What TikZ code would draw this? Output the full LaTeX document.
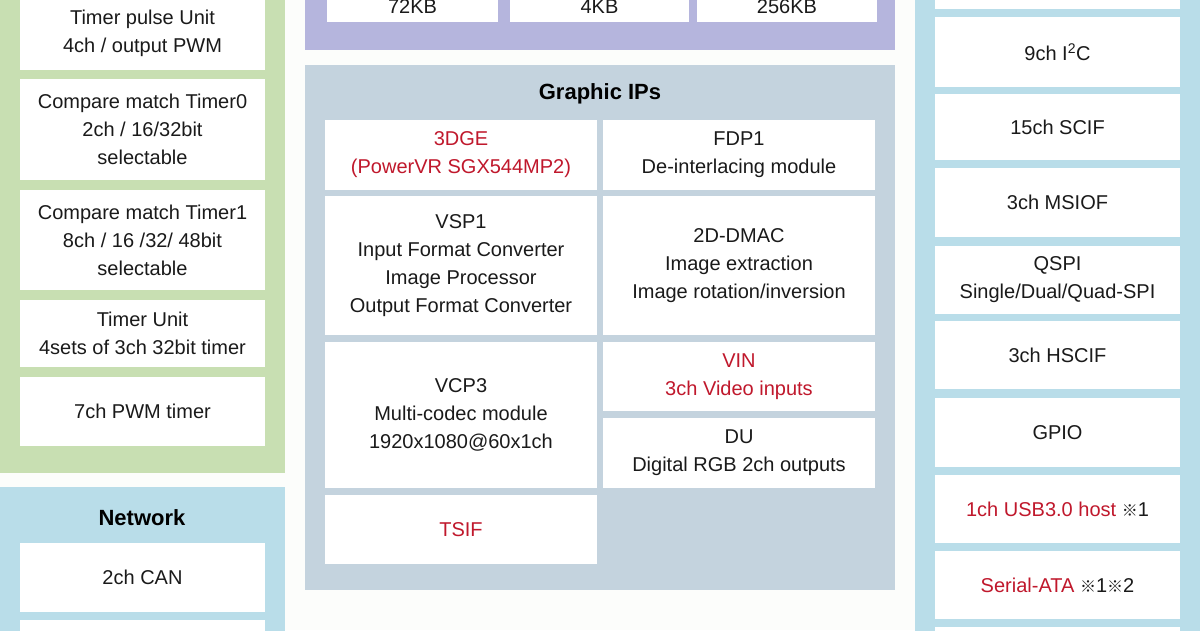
\documentclass[tikz,border=0pt]{standalone}
\usepackage{fontspec}
\setmainfont{Liberation Sans}
\newfontfamily\cjk{Noto Sans CJK JP}
\definecolor{bgc}{HTML}{FCFDFB}
\definecolor{grn}{HTML}{C8DFB2}
\definecolor{lblue}{HTML}{B9DDE9}
\definecolor{purp}{HTML}{B5B5DD}
\definecolor{gip}{HTML}{C4D3DE}
\definecolor{red}{HTML}{C0182C}
\definecolor{txt}{HTML}{1A1A1A}
\newcommand{\kome}{{\cjk\fontsize{16}{18}\selectfont ※}}
\newcommand{\bx}[6]{%
  \pgfmathsetmacro\bw{#4-#2}\pgfmathsetmacro\bh{#5-#3}%
  \node[box,minimum width=\bw pt,minimum height=\bh pt] (#1) at ({(#2+#4)/2},{(#3+#5)/2}) {#6};}
\begin{document}
\begin{tikzpicture}[x=1pt,y=-1pt,
  box/.style={fill=white,draw=none,inner sep=0pt,align=center,text=txt,font=\fontsize{20}{28}\selectfont},
  ttl/.style={text=black,font=\bfseries\fontsize{22}{26}\selectfont}]
\useasboundingbox (0,0) rectangle (1200,630);
\fill[bgc] (0,0) rectangle (1200,630);
% left green panel
\fill[grn] (0,-5) rectangle (285,473);
\bx{tpu}{20}{-3}{265}{70}{Timer pulse Unit\\4ch / output PWM}
\bx{cmt0}{20}{79}{265}{180}{Compare match Timer0\\2ch / 16/32bit\\selectable}
\bx{cmt1}{20}{190}{265}{290}{Compare match Timer1\\8ch / 16 /32/ 48bit\\selectable}
\bx{tmu}{20}{300}{265}{367}{Timer Unit\\4sets of 3ch 32bit timer}
\bx{pwm}{20}{377}{265}{446}{7ch PWM timer}
% network
\fill[lblue] (0,487) rectangle (285,640);
\node[ttl] (net) at (142,518) {Network};
\bx{can}{20}{543}{265}{612}{2ch CAN}
\bx{netx}{20}{620}{265}{650}{}
% purple memory panel
\fill[purp] (305,-5) rectangle (895,50);
\bx{m1}{327}{-8}{498}{22}{72KB}
\bx{m2}{510}{-8}{689}{22}{4KB}
\bx{m3}{697}{-8}{877}{22}{256KB}
% graphic IPs
\fill[gip] (305,65) rectangle (895,590);
\node[ttl] (gt) at (600,94) {Graphic IPs};
\bx{dge}{325}{120}{597}{190}{\textcolor{red}{3DGE}\\\textcolor{red}{(PowerVR SGX544MP2)}}
\bx{fdp}{603}{120}{875}{190}{FDP1\\De-interlacing module}
\bx{vsp}{325}{196}{597}{335}{VSP1\\Input Format Converter\\Image Processor\\Output Format Converter}
\bx{dmac}{603}{196}{875}{335}{2D-DMAC\\Image extraction\\Image rotation/inversion}
\bx{vcp}{325}{342}{597}{488}{VCP3\\Multi-codec module\\1920x1080@60x1ch}
\bx{vin}{603}{342}{875}{411}{\textcolor{red}{VIN}\\\textcolor{red}{3ch Video inputs}}
\bx{du}{603}{418}{875}{488}{DU\\Digital RGB 2ch outputs}
\bx{tsif}{325}{495}{597}{564}{\textcolor{red}{TSIF}}
% right panel
\fill[lblue] (915,-5) rectangle (1205,640);
\bx{rtop}{935}{-10}{1180}{9}{}
\bx{i2c}{935}{17}{1180}{87}{9ch I\textsuperscript{2}C}
\bx{scif}{935}{94}{1180}{160}{15ch SCIF}
\bx{msiof}{935}{168}{1180}{237}{3ch MSIOF}
\bx{qspi}{935}{246}{1180}{314}{QSPI\\Single/Dual/Quad-SPI}
\bx{hscif}{935}{321}{1180}{389}{3ch HSCIF}
\bx{gpio}{935}{398}{1180}{467}{GPIO}
\bx{usb}{935}{475}{1180}{543}{\textcolor{red}{1ch USB3.0 host} \kome1}
\bx{sata}{935}{551}{1180}{619}{\textcolor{red}{Serial-ATA} \kome1\kome2}
\bx{rbot}{935}{627}{1180}{650}{}
\end{tikzpicture}
\end{document}
